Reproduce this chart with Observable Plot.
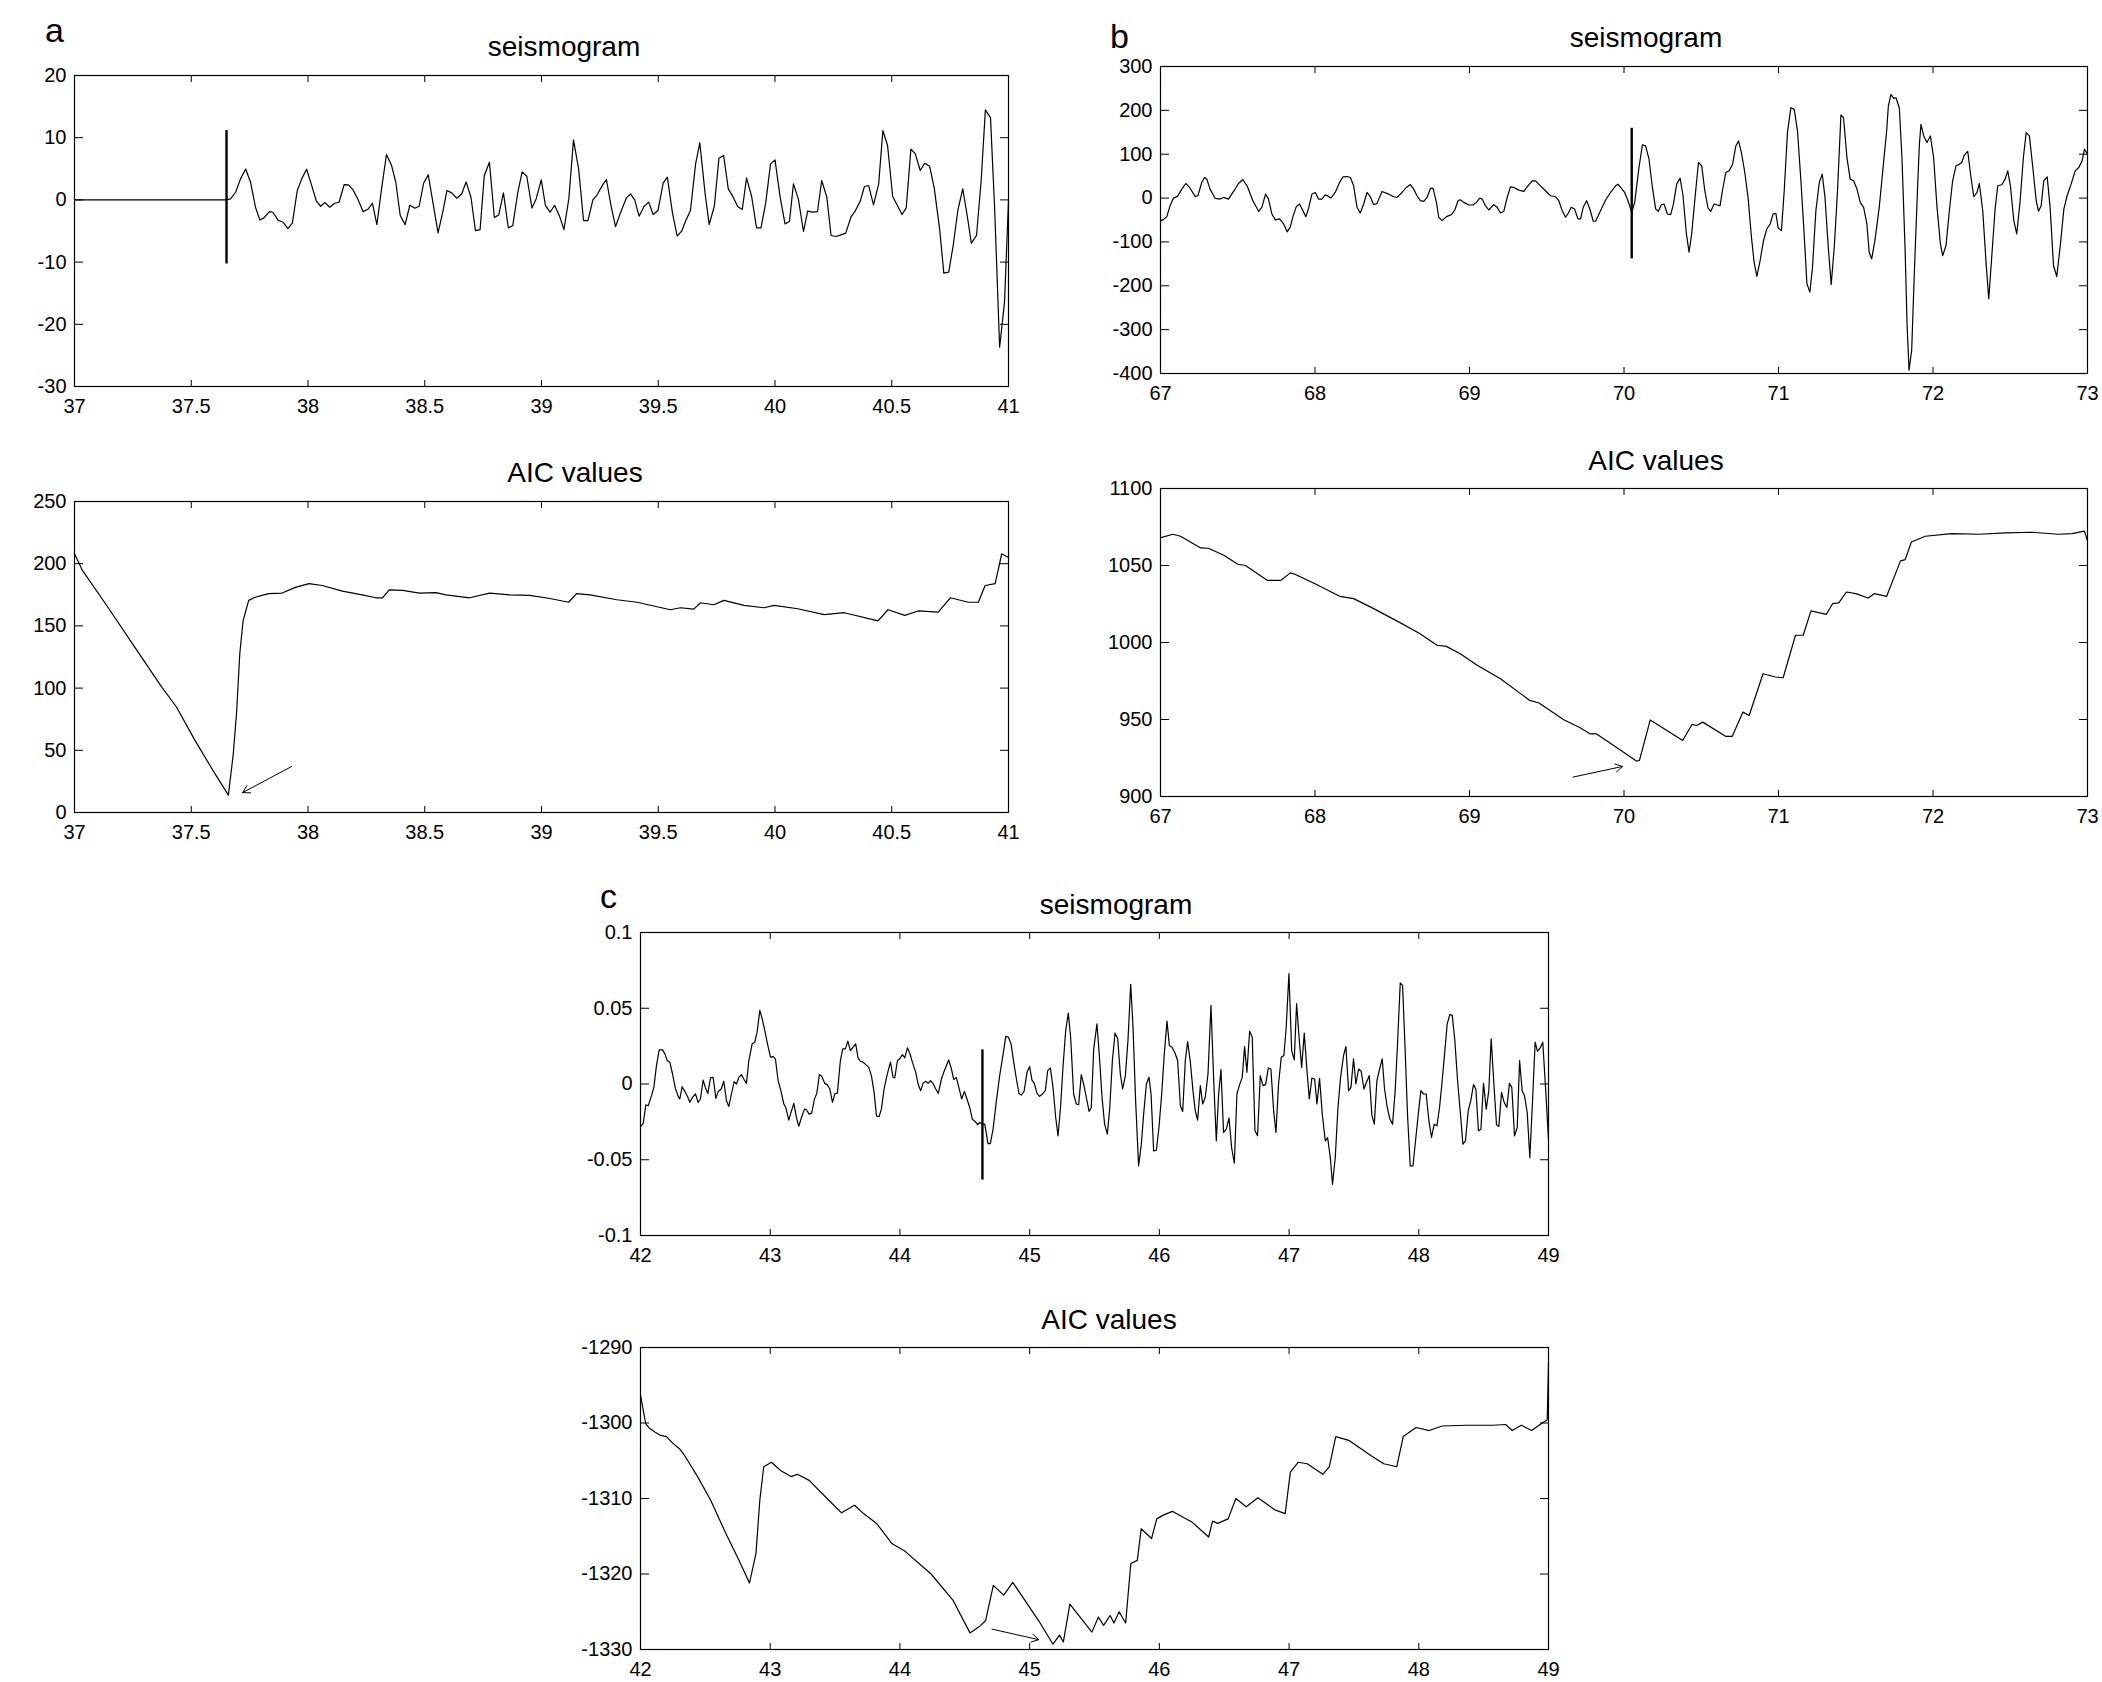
<!DOCTYPE html>
<html><head><meta charset="utf-8">
<script src="https://cdn.jsdelivr.net/npm/d3@7"></script>
<script src="https://cdn.jsdelivr.net/npm/@observablehq/plot@0.6"></script>
<style>
body{margin:0;background:#fff;}
#fig{position:relative;width:2102px;height:1682px;font-family:'Liberation Sans',Arial,Helvetica,sans-serif;color:#000;background:#fff;overflow:hidden;}
.panel{position:absolute;}
.panel svg{overflow:visible;}
.title{position:absolute;font-size:28px;line-height:28px;white-space:nowrap;transform:translateX(-50%);}
.letter{position:absolute;font-size:34px;line-height:34px;}
</style></head><body><div id="fig"></div>
<script>
// ---------- tick labels ----------
const aTicksX = [37, 37.5, 38, 38.5, 39, 39.5, 40, 40.5, 41];
const aSeisTicksY = [-30, -20, -10, 0, 10, 20];
const aAicTicksY = [0, 50, 100, 150, 200, 250];
const bTicksX = [67, 68, 69, 70, 71, 72, 73];
const bSeisTicksY = [-400, -300, -200, -100, 0, 100, 200, 300];
const bAicTicksY = [900, 950, 1000, 1050, 1100];
const cTicksX = [42, 43, 44, 45, 46, 47, 48, 49];
const cSeisTicksY = [-0.1, -0.05, 0, 0.05, 0.1];
const cAicTicksY = [-1330, -1320, -1310, -1300, -1290];

// ---------- series: [time (s), value] ----------
const aSeismogram = [[37,0],[37.651,0],[37.668,0.16],[37.690,1.23],[37.711,3.38],[37.733,4.98],[37.754,2.84],[37.775,-1.18],[37.794,-3.22],[37.811,-2.89],[37.835,-1.88],[37.850,-1.98],[37.871,-3.22],[37.893,-3.59],[37.914,-4.61],[37.933,-3.75],[37.954,1.50],[37.973,3.38],[37.994,4.93],[38.016,2.30],[38.036,-0.21],[38.054,-1.02],[38.073,-0.43],[38.093,-1.18],[38.114,-0.54],[38.133,-0.38],[38.155,2.47],[38.173,2.41],[38.193,1.61],[38.215,0],[38.236,-1.88],[38.258,-1.45],[38.276,-0.54],[38.295,-3.97],[38.315,1.77],[38.336,7.29],[38.358,5.52],[38.376,2.84],[38.395,-2.52],[38.416,-3.97],[38.436,-0.86],[38.458,-1.34],[38.476,-1.02],[38.495,2.68],[38.515,4.02],[38.536,-0.64],[38.557,-5.31],[38.577,-1.98],[38.595,1.50],[38.615,1.13],[38.637,0.27],[38.658,0.96],[38.677,2.89],[38.698,0.43],[38.717,-4.93],[38.737,-4.77],[38.755,3.91],[38.777,6.06],[38.798,-2.84],[38.817,-2.41],[38.837,1.13],[38.858,-4.50],[38.877,-4.13],[38.898,1.07],[38.917,4.50],[38.937,3.80],[38.959,-1.29],[38.977,0.16],[38.999,3.22],[39.017,-0.91],[39.037,-1.98],[39.056,-0.86],[39.077,-2.57],[39.096,-4.77],[39.117,0.16],[39.137,9.65],[39.159,4.98],[39.180,-3.32],[39.199,-3.32],[39.220,0],[39.239,0.86],[39.260,2.30],[39.278,3.27],[39.299,-1.18],[39.317,-4.29],[39.342,-1.70],[39.363,0.28],[39.381,0.97],[39.399,0.01],[39.418,-2.62],[39.439,-1.06],[39.459,-0.36],[39.478,-2.35],[39.499,-1.70],[39.521,2.69],[39.539,3.65],[39.561,-2.13],[39.581,-5.83],[39.600,-5.03],[39.618,-3.31],[39.638,-1.70],[39.660,5.80],[39.678,9.17],[39.700,1.24],[39.718,-3.96],[39.740,-1.06],[39.760,6.71],[39.780,7.14],[39.800,1.78],[39.821,0.44],[39.840,-1.06],[39.860,-1.54],[39.878,3.55],[39.900,0.55],[39.921,-4.49],[39.940,-4.49],[39.960,-0.53],[39.981,5.80],[40.000,6.44],[40.022,0.44],[40.043,-3.85],[40.062,-3.47],[40.079,2.58],[40.100,0.17],[40.122,-5.08],[40.140,-1.81],[40.160,-1.97],[40.182,-1.87],[40.200,3.12],[40.222,0.44],[40.240,-5.72],[40.262,-5.88],[40.282,-5.62],[40.303,-5.35],[40.325,-2.78],[40.343,-1.81],[40.365,-0.20],[40.383,2.15],[40.401,2.31],[40.422,-0.79],[40.444,2.58],[40.462,11.16],[40.482,8.75],[40.504,0.55],[40.522,-0.74],[40.544,-2.35],[40.562,-1.28],[40.582,8.16],[40.601,7.41],[40.622,4.73],[40.641,5.90],[40.662,5.42],[40.682,1.89],[40.705,-4.65],[40.723,-11.78],[40.744,-11.62],[40.763,-7.33],[40.783,-1.70],[40.804,1.78],[40.823,-2.51],[40.841,-6.96],[40.863,-5.72],[40.883,3.12],[40.901,14.48],[40.923,13.19],[40.941,-1.70],[40.962,-23.68],[40.983,-16.44],[41.0,-0.10]];

const aAic = [[37.0,208],[37.034,194.6],[37.143,165],[37.258,133],[37.373,101],[37.436,85],[37.516,58],[37.602,31],[37.659,14],[37.680,47],[37.694,80],[37.708,128],[37.722,154],[37.746,170.5],[37.774,173],[37.803,174.5],[37.832,176],[37.889,176.4],[37.946,181],[38.004,184],[38.061,182.5],[38.147,178],[38.233,175],[38.290,172.6],[38.319,172.6],[38.348,179],[38.405,178.5],[38.477,176.4],[38.548,176.7],[38.591,175],[38.692,172.6],[38.778,176.4],[38.864,175],[38.950,174.5],[39.036,172],[39.116,169],[39.150,176],[39.208,175],[39.323,171],[39.409,169],[39.552,163],[39.595,164.6],[39.652,163.5],[39.681,168.6],[39.738,167],[39.781,170.5],[39.867,166.5],[39.953,164.6],[39.996,166.5],[40.097,163.8],[40.211,159],[40.297,160.6],[40.441,154],[40.484,163],[40.556,158.5],[40.613,162],[40.699,161],[40.751,172.6],[40.828,169],[40.871,169],[40.900,182.5],[40.943,184],[40.971,208],[41.0,205]];

const bSeismogram = [[67.0,-52],[67.019,-49.1],[67.041,-42.3],[67.062,-17.4],[67.084,0],[67.110,3.8],[67.138,20.4],[67.164,33.2],[67.188,24.2],[67.224,3.8],[67.242,5.3],[67.267,35.5],[67.285,46.8],[67.300,43.0],[67.321,20.4],[67.354,-0.8],[67.386,-2.3],[67.408,1.5],[67.440,-2.3],[67.473,15.1],[67.505,33.2],[67.533,42.3],[67.563,25.7],[67.598,-6.0],[67.635,-30.2],[67.656,-21.1],[67.680,9.1],[67.699,-2.3],[67.721,-36.2],[67.743,-49.8],[67.771,-47.5],[67.797,-58.9],[67.820,-77.0],[67.840,-66.4],[67.857,-42.3],[67.879,-19.6],[67.900,-13.6],[67.941,-42.3],[67.959,-22.6],[67.980,9.1],[68.002,12.8],[68.023,-2.3],[68.045,-2.3],[68.066,7.5],[68.088,3.8],[68.103,0],[68.131,12.8],[68.159,35.5],[68.181,48.3],[68.207,49.1],[68.229,46.8],[68.250,27.9],[68.272,-21.1],[68.293,-34.0],[68.315,-13.6],[68.337,12.8],[68.358,3.0],[68.380,-15.1],[68.401,-12.1],[68.434,15.1],[68.477,9.1],[68.509,3.0],[68.531,1.5],[68.563,12.8],[68.591,24.2],[68.617,30.9],[68.639,20.4],[68.660,5.3],[68.682,-6.0],[68.704,-7.5],[68.725,1.5],[68.747,21.9],[68.764,22.6],[68.786,-9.8],[68.801,-43.8],[68.823,-51.3],[68.851,-42.3],[68.883,-37.7],[68.905,-27.2],[68.926,-6.0],[68.941,-3.8],[68.963,-9.8],[68.995,-15.8],[69.023,-15.8],[69.045,-9.8],[69.067,0],[69.082,-2.3],[69.103,-17.4],[69.125,-27.2],[69.157,-15.1],[69.179,-21.1],[69.201,-34.0],[69.222,-30.2],[69.244,1.5],[69.265,25.7],[69.287,24.2],[69.319,18.1],[69.352,15.1],[69.373,25.7],[69.406,39.2],[69.427,39.2],[69.460,27.9],[69.492,16.6],[69.524,5.3],[69.557,3.0],[69.578,-6.0],[69.600,-28.7],[69.622,-43.8],[69.643,-32.5],[69.658,-21.1],[69.680,-24.9],[69.702,-47.5],[69.719,-47.5],[69.736,-21.1],[69.758,-6.0],[69.779,-24.9],[69.801,-52.8],[69.816,-52.8],[69.848,-28.7],[69.881,-4.5],[69.913,12.8],[69.946,27.9],[69.961,31.7],[69.978,24.2],[70.004,12.9],[70.026,-6.1],[70.050,-32.6],[70.069,-9.8],[70.097,69.7],[70.119,121.2],[70.140,118.9],[70.162,88.6],[70.184,24.2],[70.205,-25.0],[70.222,-30.3],[70.242,-15.2],[70.259,-13.6],[70.281,-36.4],[70.302,-37.9],[70.320,-13.6],[70.341,31.8],[70.363,45.5],[70.382,5.3],[70.404,-81.8],[70.421,-123.5],[70.438,-81.8],[70.464,16.7],[70.482,81.1],[70.503,73.5],[70.523,16.7],[70.544,-22.7],[70.562,-30.3],[70.583,-13.6],[70.605,-15.9],[70.622,-17.4],[70.637,16.7],[70.659,58.3],[70.680,62.1],[70.702,75.8],[70.724,118.9],[70.741,130.3],[70.760,103.8],[70.782,58.3],[70.803,1.5],[70.825,-89.4],[70.842,-146.2],[70.860,-178.8],[70.881,-142.4],[70.903,-97.0],[70.924,-70.5],[70.946,-59.1],[70.965,-36.4],[70.983,-34.8],[70.998,-68.2],[71.019,-74.2],[71.037,16.7],[71.058,149.2],[71.080,206.1],[71.102,202.3],[71.123,153.0],[71.145,39.4],[71.166,-81.8],[71.184,-195.5],[71.203,-214.4],[71.220,-157.6],[71.242,-28.8],[71.264,35.6],[71.283,54.5],[71.301,1.5],[71.322,-112.1],[71.341,-197.0],[71.361,-112.1],[71.382,16.7],[71.404,189.4],[71.421,183.3],[71.443,92.4],[71.464,43.2],[71.486,39.4],[71.508,20.5],[71.529,-9.8],[71.551,-21.2],[71.572,-59.1],[71.587,-123.5],[71.603,-138.6],[71.624,-97.0],[71.652,-21.2],[71.678,73.5],[71.700,153.0],[71.711,209.9],[71.728,236.4],[71.745,227.3],[71.760,228.8],[71.782,206.1],[71.799,92.4],[71.819,-112.1],[71.832,-286.4],[71.845,-392.4],[71.862,-347.0],[71.879,-172.7],[71.901,31.8],[71.912,122.7],[71.922,168.2],[71.940,141.7],[71.961,126.5],[71.983,141.7],[72.004,92.4],[72.026,-21.2],[72.048,-104.5],[72.063,-131.1],[72.084,-108.3],[72.106,-28.8],[72.127,39.4],[72.149,73.5],[72.171,77.3],[72.186,81.1],[72.203,98.5],[72.225,106.1],[72.246,47.0],[72.264,3.0],[72.285,12.9],[72.300,33.3],[72.322,-28.8],[72.344,-150.0],[72.361,-229.6],[72.380,-134.9],[72.402,-25.0],[72.419,28.0],[72.445,30.3],[72.467,43.2],[72.484,62.1],[72.501,28.0],[72.523,-51.5],[72.542,-81.8],[72.564,-6.1],[72.585,92.4],[72.603,149.2],[72.624,141.7],[72.646,69.7],[72.668,-6.1],[72.683,-30.3],[72.700,-17.4],[72.717,39.4],[72.739,48.5],[72.758,-21.2],[72.780,-153.8],[72.801,-178.8],[72.825,-104.5],[72.847,-25.0],[72.868,5.3],[72.894,31.8],[72.920,62.1],[72.944,69.7],[72.965,84.8],[72.981,111.4],[73.0,100.0]];

const bAic = [[67.0,1068],[67.02,1068.6],[67.08,1070.3],[67.13,1069],[67.26,1061.4],[67.31,1061.2],[67.41,1056.7],[67.50,1050.8],[67.55,1050],[67.69,1040.4],[67.78,1040.4],[67.84,1045.2],[67.87,1044.3],[68.0,1038.2],[68.16,1030],[68.25,1028.5],[68.38,1022],[68.55,1012.9],[68.68,1005.7],[68.79,998.2],[68.85,997.5],[68.94,992.7],[69.05,985.2],[69.20,976.5],[69.39,962.4],[69.45,960.7],[69.61,949.8],[69.71,945],[69.78,940.7],[69.82,940.7],[69.95,932],[70.08,923],[70.10,923.4],[70.17,949.7],[70.27,943.3],[70.38,936.4],[70.44,946.8],[70.47,946.1],[70.51,948.3],[70.66,939],[70.70,939],[70.77,954.8],[70.81,952.6],[70.90,979.7],[70.98,977.6],[71.03,977.1],[71.11,1004.7],[71.16,1004.7],[71.21,1020.5],[71.31,1018.3],[71.35,1025.2],[71.39,1025.7],[71.44,1032.8],[71.50,1031.7],[71.58,1028.9],[71.62,1031.7],[71.70,1030],[71.79,1053],[71.82,1053.8],[71.86,1065.3],[71.95,1069],[72.12,1070.7],[72.30,1070.3],[72.47,1071.2],[72.64,1071.6],[72.81,1070.3],[72.90,1070.7],[72.98,1072.3],[73.0,1066]];

const cSeismogram = [[42.0,-0.028],[42.021,-0.0261],[42.041,-0.0137],[42.059,-0.0144],[42.085,-0.0077],[42.103,-0.0022],[42.123,0.0121],[42.144,0.0225],[42.170,0.0225],[42.188,0.0199],[42.206,0.0155],[42.226,0.0144],[42.247,0.0066],[42.267,-0.0022],[42.288,-0.0077],[42.303,-0.0099],[42.321,-0.0018],[42.342,-0.0049],[42.360,-0.0077],[42.380,-0.0121],[42.401,-0.0088],[42.424,-0.0066],[42.444,-0.0121],[42.462,-0.0099],[42.483,0.0026],[42.501,-0.0026],[42.519,-0.0062],[42.540,0.0040],[42.560,0.0044],[42.581,-0.0095],[42.599,-0.0049],[42.622,-0.0033],[42.642,0.0018],[42.663,-0.0110],[42.681,-0.0148],[42.701,-0.0066],[42.722,0.0015],[42.740,0],[42.758,0.0044],[42.778,0.0062],[42.796,0.0033],[42.817,0.0004],[42.835,0.0155],[42.861,0.0265],[42.881,0.0276],[42.899,0.0342],[42.920,0.0486],[42.940,0.0424],[42.961,0.0342],[42.979,0.0265],[43.002,0.0177],[43.022,0.0181],[43.040,0.0166],[43.061,0.0022],[43.082,-0.0044],[43.105,-0.0132],[43.120,-0.0155],[43.143,-0.0238],[43.164,-0.0177],[43.182,-0.0128],[43.202,-0.0221],[43.220,-0.0280],[43.241,-0.0221],[43.264,-0.0166],[43.279,-0.0170],[43.300,-0.0199],[43.320,-0.0192],[43.341,-0.0099],[43.359,-0.0062],[43.379,0.0062],[43.397,0.0051],[43.421,0.0004],[43.439,-0.0004],[43.459,-0.0031],[43.480,-0.0121],[43.498,-0.0066],[43.518,-0.0060],[43.541,0.0155],[43.559,0.0232],[43.580,0.0232],[43.598,0.0283],[43.618,0.0221],[43.639,0.0243],[43.659,0.0265],[43.677,0.0172],[43.695,0.0150],[43.716,0.0144],[43.737,0.0128],[43.760,0.0110],[43.780,0.0055],[43.801,-0.0055],[43.819,-0.0210],[43.839,-0.0216],[43.857,-0.0166],[43.878,-0.0033],[43.896,0.0040],[43.916,0.0110],[43.927,0.0144],[43.947,0.0044],[43.960,0.0040],[43.981,0.0155],[43.998,0.0166],[44.019,0.0194],[44.037,0.0172],[44.058,0.0238],[44.076,0.0203],[44.096,0.0144],[44.122,0.0077],[44.140,0],[44.160,-0.0044],[44.178,0.0004],[44.199,0.0018],[44.217,0.0004],[44.235,0.0022],[44.255,0.0004],[44.276,-0.0033],[44.296,-0.0062],[44.320,0.0033],[44.338,0.0077],[44.358,0.0121],[44.376,0.0159],[44.397,0.0099],[44.415,0.0029],[44.435,0.0044],[44.456,-0.0029],[44.476,-0.0099],[44.497,-0.0049],[44.517,-0.0099],[44.538,-0.0155],[44.558,-0.0232],[44.579,-0.0247],[44.600,-0.0269],[44.615,-0.0254],[44.636,-0.0265],[44.654,-0.0265],[44.679,-0.0393],[44.697,-0.0393],[44.718,-0.0298],[44.744,-0.0110],[44.769,0.0055],[44.795,0.0194],[44.816,0.0314],[44.836,0.0309],[44.857,0.0265],[44.877,0.0144],[44.898,0.0033],[44.918,-0.0062],[44.936,-0.0073],[44.957,-0.0049],[44.980,0.0077],[45.000,0.0115],[45.018,0.0026],[45.036,0.0004],[45.057,-0.0062],[45.077,-0.0082],[45.098,-0.0066],[45.121,-0.0044],[45.139,0.0088],[45.160,0.0106],[45.180,-0.0022],[45.201,-0.0221],[45.219,-0.0342],[45.239,-0.0144],[45.257,0.0110],[45.278,0.0353],[45.298,0.0468],[45.316,0.0309],[45.339,-0.0066],[45.360,-0.0132],[45.378,-0.0137],[45.398,0.0062],[45.419,-0.0011],[45.437,-0.0088],[45.458,-0.0181],[45.475,-0.0155],[45.494,0.0232],[45.519,0.0397],[45.540,0.0155],[45.558,-0.0088],[45.578,-0.0265],[45.599,-0.0331],[45.617,-0.0166],[45.638,0.0155],[45.658,0.0336],[45.679,0.0298],[45.699,0.0066],[45.717,-0.0033],[45.738,0.0055],[45.758,0.0287],[45.779,0.0658],[45.797,0.0375],[45.817,-0.0110],[45.840,-0.0541],[45.861,-0.0397],[45.879,-0.0199],[45.900,0],[45.920,0.0044],[45.936,-0.0066],[45.956,-0.0442],[45.977,-0.0437],[45.997,-0.0287],[46.018,-0.0066],[46.038,0.0199],[46.059,0.0415],[46.077,0.0254],[46.097,0.0243],[46.118,0.0210],[46.141,0.0155],[46.162,-0.0144],[46.180,-0.0181],[46.200,0.0155],[46.218,0.0280],[46.239,0.0144],[46.259,-0.0044],[46.277,-0.0177],[46.295,-0.0238],[46.316,-0.0011],[46.334,-0.0132],[46.354,-0.0088],[46.375,0.0066],[46.398,0.0519],[46.418,0.0044],[46.439,-0.0375],[46.457,-0.0066],[46.475,0.0095],[46.495,-0.0320],[46.516,-0.0298],[46.537,-0.0225],[46.557,-0.0420],[46.578,-0.0523],[46.598,-0.0066],[46.619,-0.0004],[46.639,0.0044],[46.657,0.0247],[46.675,0.0077],[46.696,0.0349],[46.716,0.0309],[46.737,-0.0309],[46.757,-0.0342],[46.778,0.0055],[46.799,-0.0011],[46.819,-0.0004],[46.840,0.0106],[46.860,0.0099],[46.881,-0.0177],[46.899,-0.0320],[46.919,0],[46.940,0.0177],[46.960,0.0188],[46.978,0.0375],[46.999,0.0729],[47.020,0.0221],[47.040,0.0159],[47.058,0.0530],[47.079,0.0287],[47.097,0.0110],[47.117,0.0336],[47.138,0.0088],[47.156,-0.0099],[47.176,0.0040],[47.197,0.0033],[47.215,-0.0132],[47.235,0.0038],[47.256,-0.0199],[47.279,-0.0375],[47.297,-0.0353],[47.318,-0.0486],[47.335,-0.0662],[47.356,-0.0486],[47.377,-0.0155],[47.397,0.0044],[47.420,0.0188],[47.438,0.0247],[47.459,-0.0044],[47.477,-0.0022],[47.497,0.0166],[47.515,0],[47.536,0.0099],[47.556,0.0084],[47.577,-0.0033],[47.597,0.0011],[47.618,0.0055],[47.639,-0.0210],[47.657,-0.0265],[47.677,0.0022],[47.698,0.0099],[47.718,0.0166],[47.736,-0.0033],[47.757,-0.0155],[47.777,-0.0232],[47.798,-0.0265],[47.818,-0.0044],[47.836,0.0265],[47.857,0.0667],[47.875,0.0651],[47.893,0.0265],[47.913,-0.0199],[47.934,-0.0541],[47.955,-0.0541],[47.975,-0.0375],[47.996,-0.0199],[48.016,-0.0044],[48.037,-0.0066],[48.057,-0.0066],[48.078,-0.0243],[48.098,-0.0353],[48.119,-0.0265],[48.140,-0.0276],[48.160,-0.0155],[48.178,0],[48.199,0.0199],[48.219,0.0397],[48.240,0.0459],[48.258,0.0453],[48.278,0.0287],[48.299,0.0022],[48.319,-0.0177],[48.340,-0.0397],[48.360,-0.0375],[48.381,-0.0177],[48.401,-0.0110],[48.422,-0.0004],[48.440,-0.0033],[48.460,-0.0309],[48.479,-0.0298],[48.499,0.0004],[48.520,-0.0166],[48.540,-0.0044],[48.558,0.0298],[48.579,0],[48.599,-0.0269],[48.617,-0.0280],[48.638,-0.0055],[48.658,-0.0121],[48.679,-0.0155],[48.699,0.0004],[48.717,-0.0022],[48.738,-0.0342],[48.759,-0.0287],[48.777,0.0155],[48.797,-0.0044],[48.815,-0.0077],[48.836,-0.0188],[48.856,-0.0486],[48.877,-0.0110],[48.897,0.0276],[48.915,0.0216],[48.936,0.0238],[48.956,0.0276],[48.977,-0.0022],[49.0,-0.0364]];

const cAic = [[42.0,-1296.3],[42.04,-1300.1],[42.07,-1300.7],[42.11,-1301.2],[42.15,-1301.6],[42.20,-1301.8],[42.25,-1302.7],[42.30,-1303.4],[42.34,-1304.3],[42.44,-1307.1],[42.54,-1310.2],[42.66,-1314.7],[42.76,-1318.2],[42.84,-1321.2],[42.89,-1317.3],[42.92,-1310.2],[42.95,-1305.8],[43.01,-1305.2],[43.08,-1306.3],[43.16,-1307.1],[43.21,-1306.8],[43.30,-1307.6],[43.45,-1310.2],[43.55,-1311.9],[43.65,-1310.9],[43.72,-1312.0],[43.82,-1313.3],[43.94,-1316.0],[44.04,-1317.0],[44.24,-1320.0],[44.41,-1323.5],[44.54,-1327.8],[44.61,-1327.0],[44.66,-1326.2],[44.72,-1321.5],[44.80,-1322.8],[44.87,-1321.1],[45.07,-1326.2],[45.18,-1329.3],[45.23,-1328.1],[45.26,-1329.0],[45.31,-1324.0],[45.48,-1327.7],[45.53,-1325.7],[45.57,-1326.8],[45.62,-1325.5],[45.65,-1326.5],[45.69,-1325.0],[45.74,-1326.5],[45.78,-1318.6],[45.83,-1318.2],[45.86,-1314.0],[45.94,-1315.3],[45.98,-1312.7],[46.03,-1312.2],[46.10,-1311.7],[46.25,-1313.1],[46.38,-1315.1],[46.41,-1313.0],[46.45,-1313.3],[46.53,-1312.7],[46.59,-1310.0],[46.67,-1311.1],[46.76,-1309.9],[46.89,-1311.5],[46.97,-1312.0],[47.01,-1306.5],[47.07,-1305.2],[47.14,-1305.4],[47.26,-1306.8],[47.31,-1305.8],[47.36,-1301.8],[47.46,-1302.3],[47.63,-1304.3],[47.73,-1305.4],[47.83,-1305.8],[47.88,-1301.8],[47.98,-1300.6],[48.08,-1301.0],[48.18,-1300.4],[48.37,-1300.3],[48.57,-1300.3],[48.67,-1300.2],[48.72,-1301.0],[48.79,-1300.3],[48.87,-1301.0],[48.96,-1299.9],[48.99,-1299.6],[49.0,-1292.1]];

// picked onsets (vertical marks) and AIC-minimum arrows
const aPick = [{t: 37.651, lo: -10.3, hi: 11.15}];
const bPick = [{t: 70.05, lo: -138.6, hi: 159.1}];
const cPick = [{t: 44.636, lo: -0.0634, hi: 0.0225}];
const aArrow = [{t1: 37.93, v1: 37, t2: 37.72, v2: 16}];
const bArrow = [{t1: 69.67, v1: 912.6, t2: 69.99, v2: 919.5}];
const cArrow = [{t1: 44.71, v1: -1327.3, t2: 45.07, v2: -1328.7}];

// ---------- layout ----------
const fig = document.getElementById("fig");
const FONT = "'Liberation Sans', Arial, Helvetica, sans-serif";

function panel({L, R, T, B, ml = 80, mr = 30, mt = 12, mb = 45, xDomain, yDomain, xTicks, yTicks, series, pick, arrow}) {
  const marks = [
    Plot.frame({stroke: "black", strokeWidth: 1.2}),
    Plot.axisX(xTicks, {anchor: "bottom", tickSize: -6, tickPadding: 18, tickFormat: d => String(d), label: null, stroke: "black", fill: "black"}),
    Plot.axisX(xTicks, {anchor: "top", tickSize: -6, tickFormat: () => "", label: null, stroke: "black"}),
    Plot.axisY(yTicks, {anchor: "left", tickSize: -9, tickPadding: 17, tickFormat: d => String(d), label: null, stroke: "black", fill: "black"}),
    Plot.axisY(yTicks, {anchor: "right", tickSize: -9, tickFormat: () => "", label: null, stroke: "black"}),
    Plot.line(series, {x: d => d[0], y: d => d[1], stroke: "black", strokeWidth: 1.2})
  ];
  if (pick) marks.push(Plot.ruleX(pick, {x: "t", y1: "lo", y2: "hi", stroke: "black", strokeWidth: 2.4}));
  if (arrow) marks.push(Plot.arrow(arrow, {x1: "t1", y1: "v1", x2: "t2", y2: "v2", stroke: "black", strokeWidth: 1, headLength: 12, bend: 0}));
  const chart = Plot.plot({
    width: (R - L) + ml + mr,
    height: (B - T) + mt + mb,
    marginLeft: ml, marginRight: mr, marginTop: mt, marginBottom: mb,
    x: {domain: xDomain, label: null},
    y: {domain: yDomain, label: null},
    style: {fontFamily: FONT, fontSize: "20px", color: "black", background: "transparent", overflow: "visible"},
    marks
  });
  const div = document.createElement("div");
  div.className = "panel";
  div.style.left = (L - ml) + "px";
  div.style.top = (T - mt) + "px";
  div.appendChild(chart);
  fig.appendChild(div);
}

function label(cls, text, left, top) {
  const d = document.createElement("div");
  d.className = cls;
  d.textContent = text;
  d.style.left = left + "px";
  d.style.top = top + "px";
  fig.appendChild(d);
}

panel({L: 74, R: 1008, T: 75, B: 386, ml: 70, xDomain: [37, 41], yDomain: [-30, 20], xTicks: aTicksX, yTicks: aSeisTicksY, series: aSeismogram, pick: aPick});
panel({L: 74, R: 1008, T: 501, B: 812, ml: 70, xDomain: [37, 41], yDomain: [0, 250], xTicks: aTicksX, yTicks: aAicTicksY, series: aAic, arrow: aArrow});
panel({L: 1160, R: 2087, T: 66, B: 373, mr: 15, xDomain: [67, 73], yDomain: [-400, 300], xTicks: bTicksX, yTicks: bSeisTicksY, series: bSeismogram, pick: bPick});
panel({L: 1160, R: 2087, T: 488, B: 796, mr: 15, xDomain: [67, 73], yDomain: [900, 1100], xTicks: bTicksX, yTicks: bAicTicksY, series: bAic, arrow: bArrow});
panel({L: 640, R: 1548, T: 932, B: 1235, xDomain: [42, 49], yDomain: [-0.1, 0.1], xTicks: cTicksX, yTicks: cSeisTicksY, series: cSeismogram, pick: cPick});
panel({L: 640, R: 1548, T: 1347, B: 1649, xDomain: [42, 49], yDomain: [-1330, -1290], xTicks: cTicksX, yTicks: cAicTicksY, series: cAic, arrow: cArrow});

label("letter", "a", 45, 13);
label("letter", "b", 1110, 19);
label("letter", "c", 600, 879);
label("title", "seismogram", 564, 33);
label("title", "AIC values", 575, 459);
label("title", "seismogram", 1646, 24);
label("title", "AIC values", 1656, 447);
label("title", "seismogram", 1116, 891);
label("title", "AIC values", 1109, 1306);
</script></body></html>
